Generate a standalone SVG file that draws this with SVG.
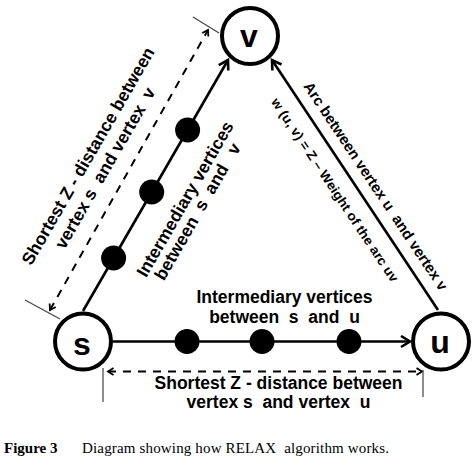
<svg xmlns="http://www.w3.org/2000/svg" width="474" height="462" viewBox="0 0 474 462">
<style>
.node{fill:#fff;stroke:#000;stroke-width:4}
.lbl{font-family:"Liberation Sans",Arial,sans-serif;font-weight:bold;font-size:32px;text-anchor:middle;fill:#000}
.dot{fill:#000}
.edge{stroke:#000;stroke-width:2.6;fill:none}
.dash{stroke:#000;stroke-width:2;fill:none;stroke-dasharray:8 7}
.tick{stroke:#444;stroke-width:1.2;fill:none}
.t{font-family:"Liberation Sans",Arial,sans-serif;font-weight:bold;font-size:17.5px;fill:#000;text-anchor:middle;white-space:pre}
.ta{font-family:"Liberation Sans",Arial,sans-serif;font-weight:bold;font-size:15px;fill:#000;text-anchor:middle;white-space:pre}
.tw{font-family:"Liberation Sans",Arial,sans-serif;font-weight:bold;font-size:13px;fill:#000;text-anchor:middle;white-space:pre}
.cap{font-family:"Liberation Serif","Times New Roman",serif;font-size:15px;fill:#000;white-space:pre}
</style>
<defs>
<marker id="ah" markerUnits="userSpaceOnUse" markerWidth="16" markerHeight="16" refX="11" refY="7" orient="auto">
<path d="M2,1.5 L11,7 L2,12.5" fill="none" stroke="#000" stroke-width="2.6"/>
</marker>
<marker id="dh" markerUnits="userSpaceOnUse" markerWidth="12" markerHeight="12" refX="7" refY="5" orient="auto-start-reverse">
<path d="M1.5,1.5 L7,5 L1.5,8.5" fill="none" stroke="#000" stroke-width="1.8"/>
</marker>
</defs>
<g id="connectors">
<path class="edge" d="M83,311 L228,60" marker-end="url(#ah)"/>
<path class="edge" d="M438,310 L272,60" marker-end="url(#ah)"/>
<path class="edge" d="M113,341.5 L410,341.5" marker-end="url(#ah)"/>
<path class="dash" d="M50,310 L208,30" marker-start="url(#dh)" marker-end="url(#dh)"/>
<path class="dash" d="M108,371.5 L422,371.5" marker-start="url(#dh)" marker-end="url(#dh)"/>
<path class="tick" d="M25,300 L60,319"/>
<path class="tick" d="M193,17 L219,33"/>
<path class="tick" d="M103,368 L103,402"/>
<path class="tick" d="M423,370 L423,397"/>
</g>
<g id="dots-sv">
<circle class="dot" cx="187.6" cy="130" r="12.5"/>
<circle class="dot" cx="151.7" cy="192" r="12.5"/>
<circle class="dot" cx="113.6" cy="258" r="12.5"/>
</g>
<g id="dots-su">
<circle class="dot" cx="187" cy="341.5" r="12.5"/>
<circle class="dot" cx="262" cy="341.5" r="12.5"/>
<circle class="dot" cx="349" cy="341.5" r="12.5"/>
</g>
<g id="node-v">
<circle class="node" cx="250" cy="36" r="28"/>
<text class="lbl" x="249" y="47">v</text>
</g>
<g id="node-s">
<circle class="node" cx="83" cy="341.5" r="28"/>
<text class="lbl" x="82" y="355">s</text>
</g>
<g id="node-u">
<circle class="node" cx="441" cy="341.5" r="28"/>
<text class="lbl" x="440" y="353">u</text>
</g>
<g id="labels">
<g transform="translate(88,156) rotate(-60)">
<text class="t" x="0" y="6">Shortest Z - distance between</text>
<text class="t" x="-2" y="26.7">vertex s  and vertex  v</text>
</g>
<g transform="translate(185,199) rotate(-60)">
<text class="t" x="0" y="6">Intermediary vertices</text>
<text class="t" x="-4.6" y="23">between  s  and   v</text>
</g>
<g transform="translate(376,186) rotate(56.3)">
<text class="ta" x="0" y="5.4">Arc between vertex u  and vertex v</text>
</g>
<g transform="translate(335,190) rotate(56.3)">
<text class="tw" x="0" y="4.6" textLength="218" lengthAdjust="spacingAndGlyphs">w (u, v) = Z – Weight of the arc uv</text>
</g>
<text class="t" x="284.5" y="303">Intermediary vertices</text>
<text class="t" x="284.5" y="323">between  s  and  u</text>
<text class="t" x="278.5" y="389">Shortest Z - distance between</text>
<text class="t" x="278.5" y="408">vertex s  and vertex  u</text>
</g>
<g id="caption">
<text class="cap" x="4" y="453" font-weight="bold">Figure 3</text>
<text class="cap" x="82" y="453" textLength="307">Diagram showing how RELAX  algorithm works.</text>
</g>
</svg>
